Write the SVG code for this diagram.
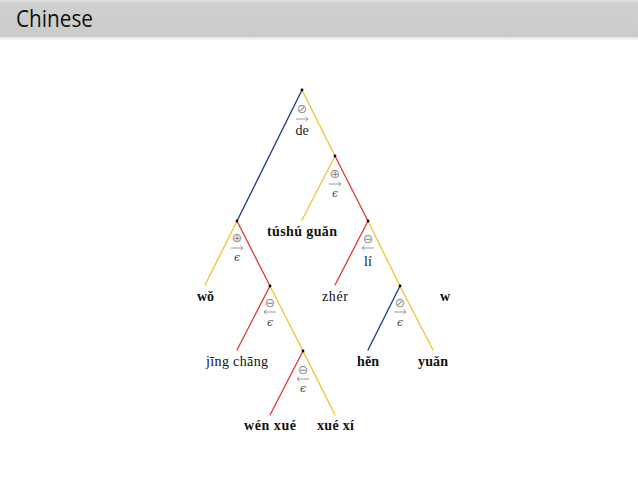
<svg xmlns="http://www.w3.org/2000/svg" width="638" height="479" viewBox="0 0 638 479">
<defs>
<linearGradient id="hdr" x1="0" y1="0" x2="0" y2="1">
<stop offset="0" stop-color="#e2e2e2"/>
<stop offset="0.08" stop-color="#d0d0d0"/>
<stop offset="1" stop-color="#cbcbcb"/>
</linearGradient>
<linearGradient id="shd" x1="0" y1="0" x2="0" y2="1">
<stop offset="0" stop-color="#dcdcdc"/>
<stop offset="1" stop-color="#ffffff"/>
</linearGradient>
<g id="ra"><path d="M-6,0 H6 M3.5,-2.2 L6,0 L3.5,2.2" fill="none" stroke="#808080" stroke-width="0.8"/></g>
<g id="la"><path d="M6,0 H-6 M-3.5,-2.2 L-6,0 L-3.5,2.2" fill="none" stroke="#808080" stroke-width="0.8"/></g>
</defs>
<style>
.e{stroke-width:1.3;fill:none;stroke-linecap:round}
.b{stroke:#1f3a85}.r{stroke:#e03a2c}.y{stroke:#f2c230}
.sym{font-family:"DejaVu Sans",sans-serif;font-size:12.5px;fill:#8a8a8a;text-anchor:middle}
.eps{font-family:"DejaVu Serif",serif;font-style:italic;font-size:11px;fill:#444;text-anchor:middle}
.lab{font-family:"Liberation Serif",serif;font-size:14px;fill:#222;text-anchor:middle}
.lf{font-family:"Liberation Serif","DejaVu Serif",serif;font-size:14px;fill:#111}
.bd{font-weight:bold}
</style>
<rect x="0" y="0" width="638" height="479" fill="#ffffff"/>
<rect x="0" y="36" width="638" height="5" fill="url(#shd)"/>
<rect x="0" y="0" width="638" height="37" fill="url(#hdr)"/>
<text x="16" y="27" font-family="'Open Sans','DejaVu Sans',sans-serif" font-size="24" fill="#111" textLength="77" lengthAdjust="spacingAndGlyphs">Chinese</text>

<g id="edges">
<line class="e b" x1="302" y1="90" x2="237" y2="221"/>
<line class="e y" x1="302" y1="90" x2="335" y2="156"/>
<line class="e y" x1="335" y1="156" x2="302" y2="220"/>
<line class="e r" x1="335" y1="156" x2="368" y2="221"/>
<line class="e y" x1="237" y1="221" x2="205" y2="285"/>
<line class="e r" x1="237" y1="221" x2="270" y2="286"/>
<line class="e r" x1="368" y1="221" x2="335" y2="285"/>
<line class="e y" x1="368" y1="221" x2="400" y2="286"/>
<line class="e r" x1="270" y1="286" x2="237" y2="350"/>
<line class="e y" x1="270" y1="286" x2="303" y2="351"/>
<line class="e b" x1="400" y1="286" x2="368" y2="350"/>
<line class="e y" x1="400" y1="286" x2="433" y2="350"/>
<line class="e r" x1="303" y1="351" x2="270" y2="415"/>
<line class="e y" x1="303" y1="351" x2="335" y2="415"/>
</g>

<g id="n-root">
<circle cx="302" cy="90" r="1.4" fill="#000"/>
<text class="sym" x="302" y="112.5">⊘</text>
<use href="#ra" x="302" y="119"/>
<text class="lab" x="302" y="135">de</text>
</g>
<g id="n-a">
<circle cx="335" cy="156" r="1.4" fill="#000"/>
<text class="sym" x="335" y="177.5">⊕</text>
<use href="#ra" x="335" y="184"/>
<text class="eps" x="335" y="197">ϵ</text>
</g>
<g id="n-b">
<circle cx="237" cy="221" r="1.4" fill="#000"/>
<text class="sym" x="237" y="242">⊕</text>
<use href="#ra" x="237" y="248"/>
<text class="eps" x="237" y="261">ϵ</text>
</g>
<g id="n-c">
<circle cx="368" cy="221" r="1.4" fill="#000"/>
<text class="sym" x="368" y="242.5">⊖</text>
<use href="#la" x="368" y="248"/>
<text class="lab" x="368" y="266">lí</text>
</g>
<g id="n-d">
<circle cx="270" cy="286" r="1.4" fill="#000"/>
<text class="sym" x="270" y="306.5">⊖</text>
<use href="#la" x="270" y="312"/>
<text class="eps" x="270" y="326">ϵ</text>
</g>
<g id="n-e">
<circle cx="400" cy="286" r="1.4" fill="#000"/>
<text class="sym" x="400" y="306.5">⊘</text>
<use href="#ra" x="400" y="312"/>
<text class="eps" x="400" y="326">ϵ</text>
</g>
<g id="n-f">
<circle cx="303" cy="351" r="1.4" fill="#000"/>
<text class="sym" x="303" y="373.5">⊖</text>
<use href="#la" x="303" y="379"/>
<text class="eps" x="303" y="392">ϵ</text>
</g>

<g id="leaves">
<text class="lf bd" x="267" y="236" textLength="70">túshú guǎn</text>
<text class="lf bd" x="197" y="301">wǒ</text>
<text class="lf" x="322" y="301" textLength="26">zhér</text>
<text class="lf bd" x="440" y="301">w</text>
<text class="lf" x="206" y="366" textLength="62">jīng chāng</text>
<text class="lf bd" x="357" y="366" textLength="22">hěn</text>
<text class="lf bd" x="418" y="366" textLength="30">yuǎn</text>
<text class="lf bd" x="244" y="430" textLength="52">wén xué</text>
<text class="lf bd" x="317" y="430" textLength="37">xué xí</text>
</g>
</svg>
